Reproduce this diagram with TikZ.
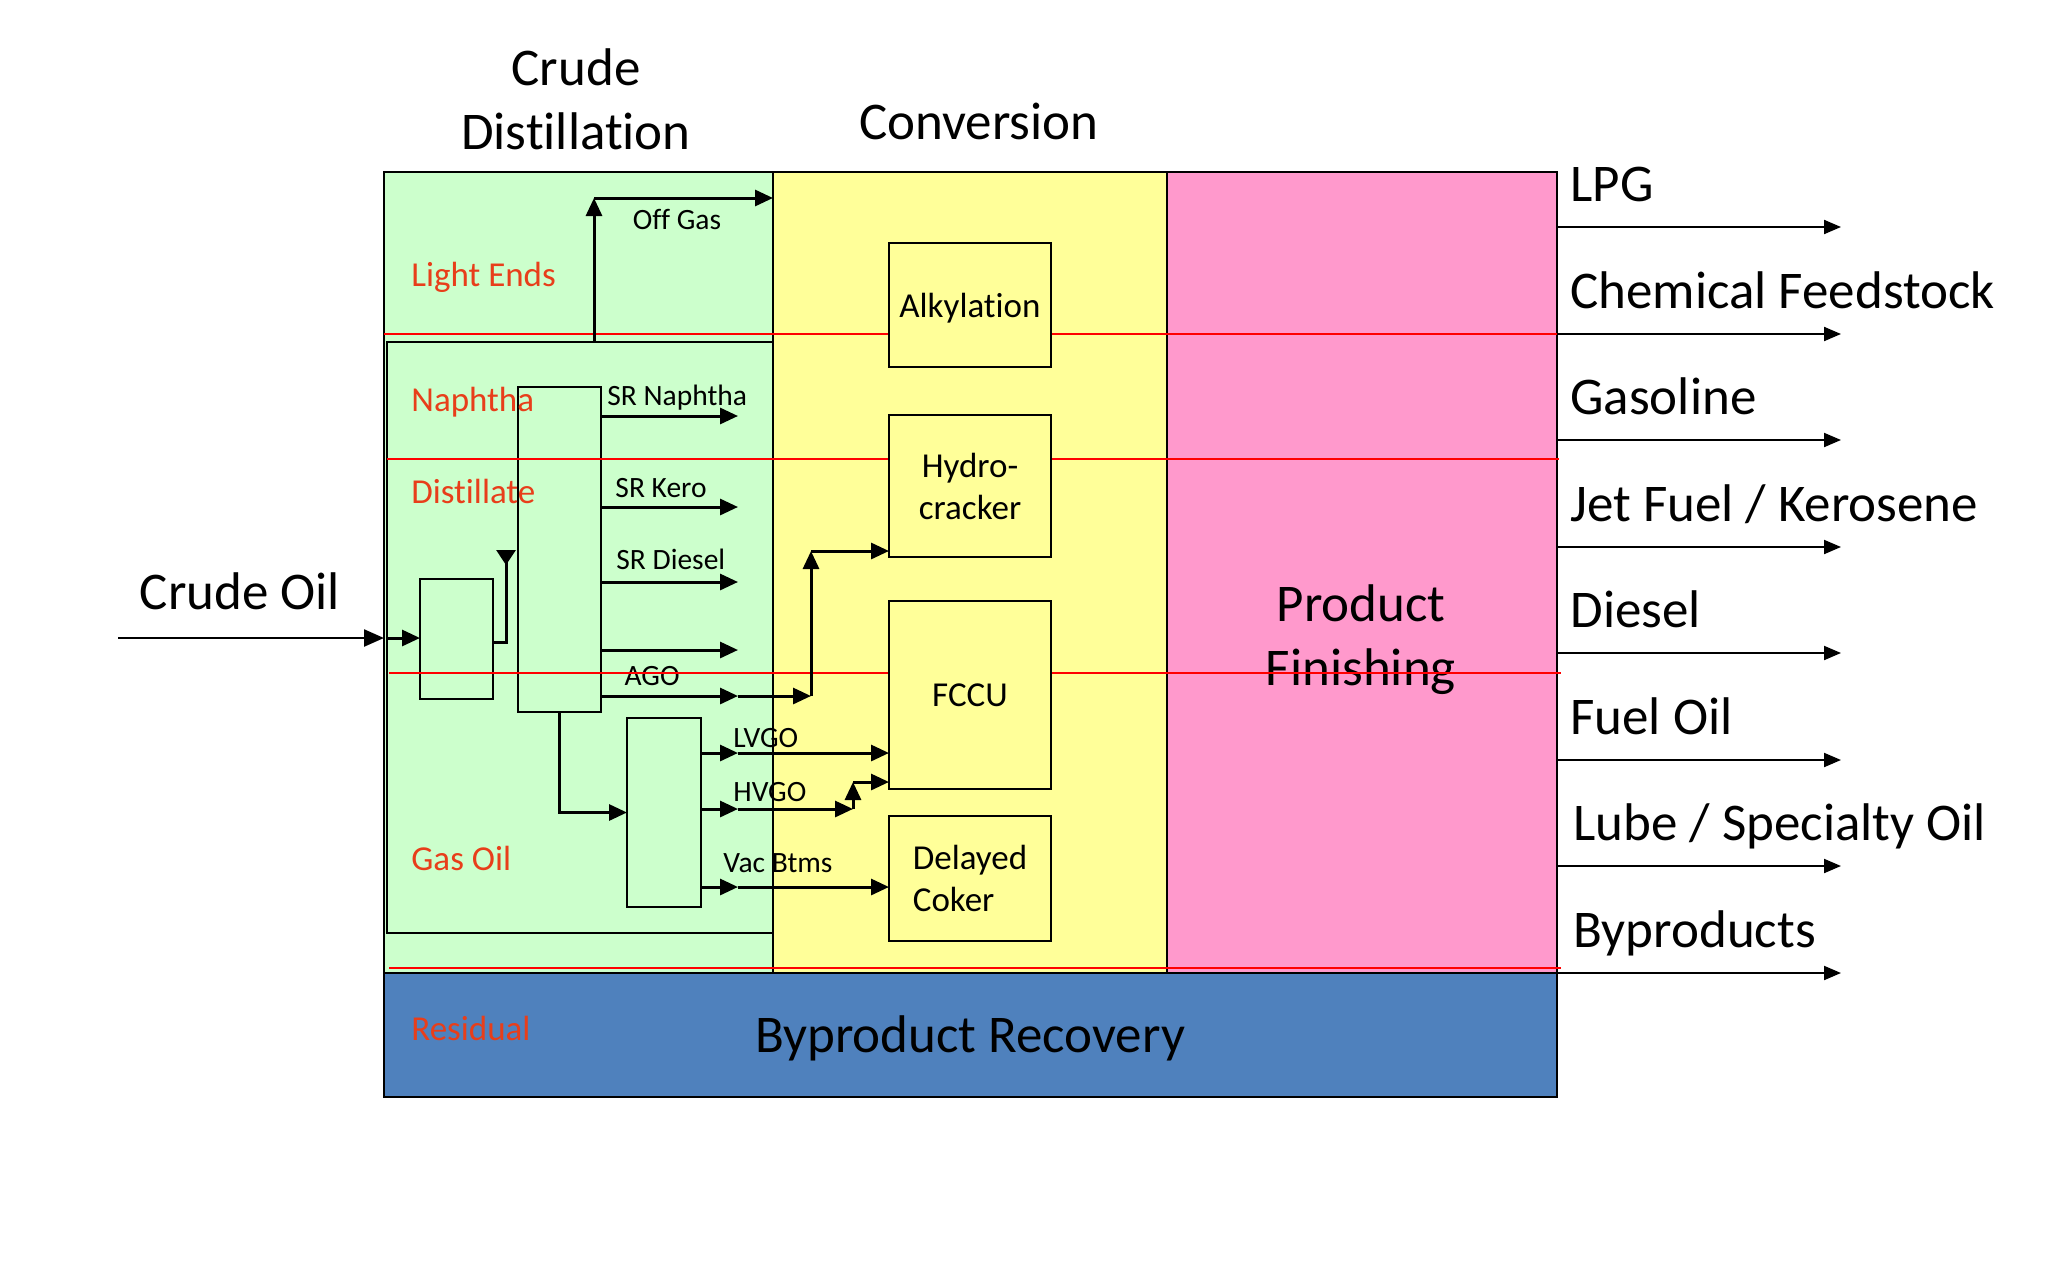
\documentclass[tikz,border=0pt]{standalone}
\usepackage{fontspec}
\setmainfont{Carlito}[Ligatures=NoCommon]
\usetikzlibrary{arrows.meta}
\definecolor{cdgreen}{HTML}{CCFFCC}
\definecolor{cvyellow}{HTML}{FFFF99}
\definecolor{pfpink}{HTML}{FF99CC}
\definecolor{bpblue}{HTML}{4F81BD}
\definecolor{lblred}{RGB}{232,62,26}
\begin{document}
\begin{tikzpicture}[x=0.5pt,y=-0.5pt,
  region/.style={draw=black, line width=1.2pt, inner sep=0pt, outer sep=0pt},
  vessel/.style={draw=black, line width=1.2pt, inner sep=0pt, outer sep=0pt, fill=cdgreen},
  unitbox/.style={draw=black, line width=1.4pt, fill=cvyellow, inner sep=0pt, outer sep=0pt,
    minimum width=81pt, font=\fontsize{17.5}{21}\selectfont},
  flow/.style={line width=1.5pt, -{Triangle[length=9pt,width=8pt]}},
  prod/.style={line width=1pt, -{Triangle[length=8.5pt,width=7pt]}},
  feedarrow/.style={line width=1.2pt, -{Triangle[length=10pt,width=8.5pt]}},
  cut/.style={draw=red, line width=1.1pt},
  big/.style={font=\fontsize{26.5}{32}\selectfont, inner sep=0pt, align=center},
  cat/.style={text=lblred, font=\fontsize{17.5}{21}\selectfont, inner sep=0pt, anchor=west},
  stream/.style={font=\fontsize{14.75}{17}\selectfont, inner sep=0pt},
  prodlabel/.style={font=\fontsize{26.5}{32}\selectfont, inner sep=0pt, anchor=base west}
]
\fill[white] (0,0) rectangle (2048,1263);
\useasboundingbox (0,0) rectangle (2048,1263);

% regions
\node[region, fill=cdgreen, minimum width=194.5pt, minimum height=400.5pt] (cd) at (578.5,572.5) {};
\node[region, fill=cvyellow, minimum width=197pt, minimum height=400.5pt] (cv) at (970,572.5) {};
\node[region, fill=pfpink, minimum width=195pt, minimum height=400.5pt] (pf) at (1362,572.5) {};
\node[region, fill=bpblue, minimum width=586.5pt, minimum height=62pt] (br) at (970.5,1035) {};
\node[region, minimum width=193pt, minimum height=295.5pt] (atm) at (580,637.5) {};

% vessels
\node[vessel, minimum width=36.5pt, minimum height=60pt] (desalter) at (456.5,639) {};
\node[vessel, minimum width=41.5pt, minimum height=162.5pt] (column) at (559.5,549.5) {};
\node[vessel, minimum width=37pt, minimum height=94.5pt] (vacuum) at (664,812.5) {};

% titles
\node[big] (tcd) at (576,99) {Crude\\Distillation};
\node[big] (tcv) at (979,121) {Conversion};
\node[big] (tpf) at (1361,640) {Product\\Finishing};
\node[big] (tbr) at (970,1038) {Byproduct Recovery};
\node[big] (tcrude) at (240,591) {Crude Oil};

% category labels
\node[cat] (lle) at (411,277) {Light Ends};
\node[cat] (lna) at (411,402) {Naphtha};
\node[cat] (ldi) at (411,491) {Distillate};
\node[cat] (lgo) at (411,858) {Gas Oil};
\node[cat] (lre) at (411,1028) {Residual};

% stream labels
\node[stream] (sog) at (677,219) {Off Gas};
\node[stream, anchor=west] (ssn) at (607,398) {SR Naphtha};
\node[stream] (ssk) at (661,488) {SR Kero};
\node[stream, anchor=west] (ssd) at (616,559) {SR Diesel};
\node[stream] (sago) at (652,676) {AGO};
\node[stream, anchor=west] (slv) at (733,738) {LVGO};
\node[stream, anchor=west] (shv) at (733,792) {HVGO};
\node[stream, anchor=west] (svb) at (723,863) {Vac Btms};

% cut lines
\draw[cut] (384,334) -- (1557,334);
\draw[cut] (387,459) -- (1559,459);
\draw[cut] (389,673) -- (1561,673);
\draw[cut] (389,968) -- (1561,968);

% conversion units
\node[unitbox, minimum height=62pt, text depth=0pt] (alky) at (970,305) {Alkylation};
\node[unitbox, minimum height=71pt, align=center] (hcu) at (970,486) {Hydro-\\cracker};
\node[unitbox, minimum height=94pt] (fccu) at (970,695) {FCCU};
\node[unitbox, minimum height=62.5pt, align=left] (coker) at (970,878.5) {Delayed\\Coker};

% crude feed
\coordinate (crudein) at (118,638);
\draw[feedarrow] (crudein) -- (cd.west |- crudein);
\draw[flow] (atm.west |- crudein) -- (desalter.west |- crudein);
\coordinate (dsup) at (506,550);
\draw[line width=1.5pt, -{Triangle[reversed,length=7.5pt,width=9.5pt]}] (desalter.east |- 0,642) -| (dsup);

% off gas
\coordinate (og) at (594,198);
\draw[flow] (atm.north -| og) -- (og);
\draw[flow] (og) -- (cd.east |- og);

% atmospheric column side draws
\coordinate (sn) at (738,416);
\coordinate (sk) at (738,507);
\coordinate (sd) at (738,582);
\coordinate (sx) at (738,650);
\coordinate (sa) at (738,696);
\foreach \c in {sn,sk,sd,sx,sa} { \draw[flow] (column.east |- \c) -- (\c); }

% AGO to hydrocracker
\coordinate (ago1) at (811,696);
\coordinate (ago2) at (811,551);
\draw[flow] (sa) -- (ago1);
\draw[flow] (ago1) -- (ago2);
\draw[flow] (ago2) -- (hcu.west |- ago2);

% column bottoms to vacuum
\draw[flow] (column.south) |- (vacuum.west);

% vacuum draws
\coordinate (lv) at (738,753);
\coordinate (hv) at (738,809);
\coordinate (vb) at (738,887);
\foreach \c in {lv,hv,vb} { \draw[flow] (vacuum.east |- \c) -- (\c); }
\draw[flow] (lv) -- (fccu.west |- lv);
\coordinate (hv1) at (853,809);
\coordinate (hv2) at (853,782);
\draw[flow] (hv) -- (hv1);
\draw[flow] (hv1) -- (hv2);
\draw[flow] (hv2) -- (fccu.west |- hv2);
\draw[flow] (vb) -- (coker.west |- vb);

% products
\foreach \y/\nm/\txt/\dx in {227/p1/{LPG}/0, 334/p2/{Chemical Feedstock}/0, 440/p3/{Gasoline}/0,
  547/p4/{Jet Fuel / Kerosene}/0, 653/p5/{Diesel}/0, 760/p6/{Fuel Oil}/0,
  866/p7/{Lube / Specialty Oil}/3, 973/p8/{Byproducts}/3} {
  \coordinate (\nm) at (1841,\y);
  \draw[prod] (pf.east |- \nm) -- (\nm);
  \node[prodlabel] (\nm-l) at (1570+\dx,\y-26) {\txt};
}
\end{tikzpicture}
\end{document}
